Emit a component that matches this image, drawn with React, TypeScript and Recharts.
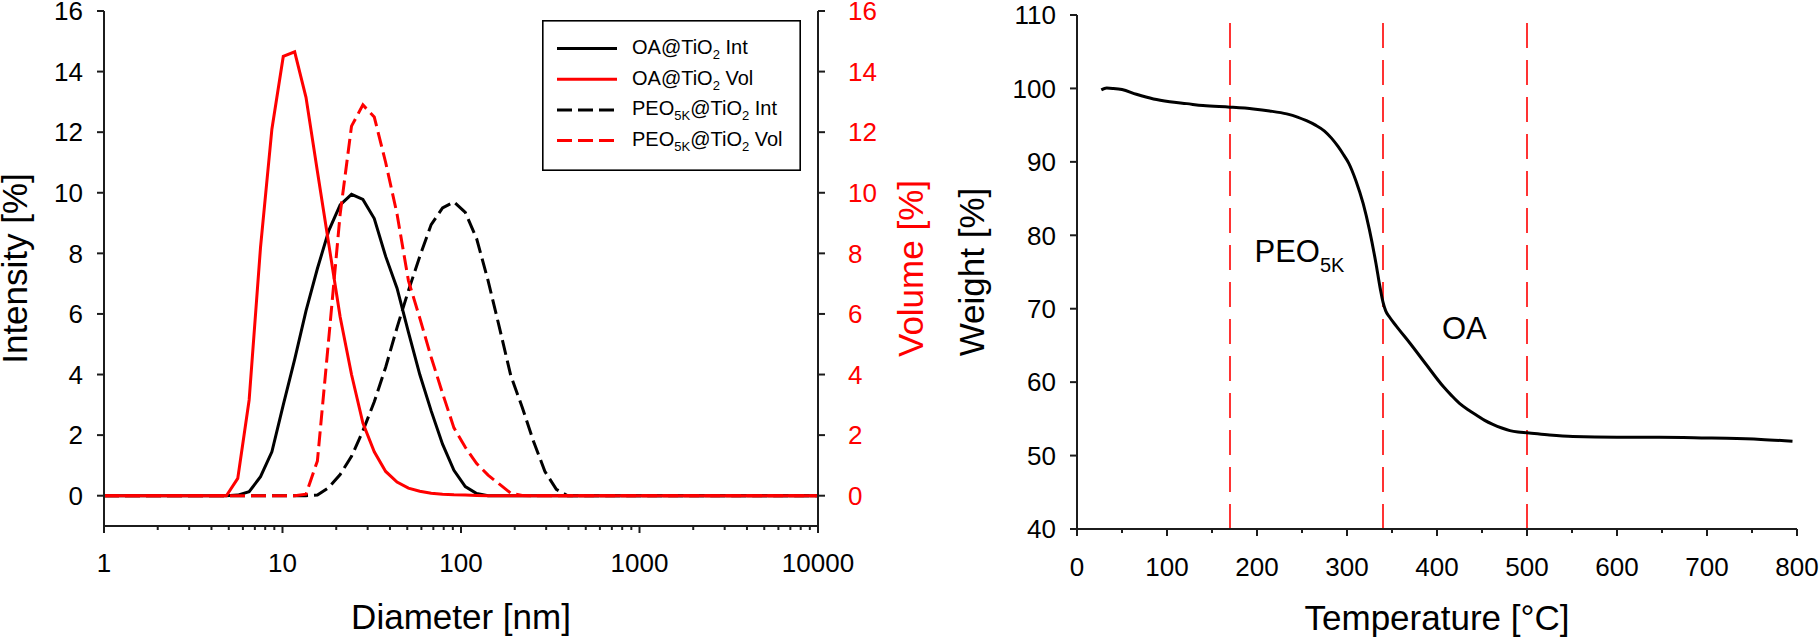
import React from 'react';
import { LineChart, Line, XAxis, YAxis, ReferenceLine, Legend } from 'recharts';

const FONT = '"Liberation Sans", Arial, Helvetica, sans-serif';
const AXIS = '#1c1c1c';
const RED = '#ff0000';

// ---------- DLS (left panel) ----------
const diameterNm = [1, 1.117, 1.294, 1.499, 1.736, 2.01, 2.328, 2.696, 3.122, 3.615, 4.187, 4.849, 5.615, 6.503, 7.531, 8.721, 10.1, 11.7, 13.54, 15.69, 18.17, 21.04, 24.36, 28.21, 32.67, 37.84, 43.82, 50.75, 58.77, 68.06, 78.82, 91.28, 105.7, 122.4, 141.8, 164.2, 190.1, 220.2, 255, 295.3, 342, 396.1, 458.7, 531.2, 615.1, 712.4, 825, 955.4, 1106, 1281, 1484, 1718, 1990, 2305, 2669, 3091, 3580, 4145, 4801, 5560, 6439, 7456, 8635, 10000];

const oaTiO2Int = [0, 0, 0, 0, 0, 0, 0, 0, 0, 0, 0, 0, 0.02, 0.13, 0.63, 1.45, 3.0, 4.5, 6.1, 7.5, 8.75, 9.6, 9.95, 9.78, 9.15, 7.9, 6.85, 5.4, 4.0, 2.8, 1.7, 0.84, 0.3, 0.07, 0, 0, 0, 0, 0, 0, 0, 0, 0, 0, 0, 0, 0, 0, 0, 0, 0, 0, 0, 0, 0, 0, 0, 0, 0, 0, 0, 0, 0, 0];
const oaTiO2Vol = [0, 0, 0, 0, 0, 0, 0, 0, 0, 0, 0, 0, 0.57, 3.16, 8.2, 12.1, 14.5, 14.65, 13.15, 10.7, 8.3, 5.9, 4.0, 2.4, 1.45, 0.8, 0.45, 0.25, 0.15, 0.08, 0.05, 0.03, 0.02, 0.01, 0, 0, 0, 0, 0, 0, 0, 0, 0, 0, 0, 0, 0, 0, 0, 0, 0, 0, 0, 0, 0, 0, 0, 0, 0, 0, 0, 0, 0, 0];
const peoTiO2Int = [0, 0, 0, 0, 0, 0, 0, 0, 0, 0, 0, 0, 0, 0, 0, 0, 0, 0, 0, 0.02, 0.27, 0.7, 1.3, 2.14, 3.1, 4.24, 5.55, 6.77, 7.9, 8.95, 9.5, 9.7, 9.35, 8.48, 7.1, 5.55, 3.96, 2.92, 1.79, 0.8, 0.21, 0, 0, 0, 0, 0, 0, 0, 0, 0, 0, 0, 0, 0, 0, 0, 0, 0, 0, 0, 0, 0, 0, 0];
const peoTiO2Vol = [0, 0, 0, 0, 0, 0, 0, 0, 0, 0, 0, 0, 0, 0, 0, 0, 0, 0, 0.05, 1.15, 5.2, 9.3, 12.2, 12.9, 12.5, 11.0, 9.3, 7.1, 5.86, 4.57, 3.38, 2.24, 1.6, 1.06, 0.68, 0.38, 0.08, 0.01, 0, 0, 0, 0, 0, 0, 0, 0, 0, 0, 0, 0, 0, 0, 0, 0, 0, 0, 0, 0, 0, 0, 0, 0, 0, 0];

const diameterMajorTicks = [1, 10, 100, 1000, 10000];
const diameterMinorTicks = [2, 3, 4, 5, 6, 7, 8, 9, 20, 30, 40, 50, 60, 70, 80, 90, 200, 300, 400, 500, 600, 700, 800, 900, 2000, 3000, 4000, 5000, 6000, 7000, 8000, 9000];
const percentTicks = [0, 2, 4, 6, 8, 10, 12, 14, 16];

// ---------- TGA (right panel) ----------
const temperatureC = [27, 33, 40, 50, 66, 85, 103, 122, 140, 170, 196, 214, 233, 245, 255, 265, 275, 283, 290, 296, 302, 310, 318, 325, 332, 337, 340, 343, 347, 355, 370, 388, 407, 416, 425, 435, 444, 453, 462, 472, 481, 490, 500, 525, 551, 600, 647, 700, 722, 760, 795];
const weightPct = [99.8, 100.05, 100.0, 99.85, 99.2, 98.57, 98.2, 97.93, 97.66, 97.45, 97.2, 96.93, 96.53, 96.1, 95.6, 95.0, 94.2, 93.2, 92.1, 91.0, 89.8, 87.4, 84.3, 80.7, 76.3, 72.7, 70.9, 69.7, 68.9, 67.6, 65.3, 62.4, 59.4, 58.2, 57.1, 56.2, 55.5, 54.8, 54.25, 53.75, 53.4, 53.2, 53.1, 52.8, 52.6, 52.5, 52.5, 52.4, 52.35, 52.2, 51.95];
const temperatureMajorTicks = [0, 100, 200, 300, 400, 500, 600, 700, 800];
const temperatureMinorTicks = [50, 150, 250, 350, 450, 550, 650, 750];
const weightTicks = [40, 50, 60, 70, 80, 90, 100, 110];
const stageBoundsC = [170, 340, 500];
const stageLabels = [
  { text: 'PEO_{5K}' },
  { text: 'OA' },
];

type Series = { key: string; name: string; color: string; dash?: string; axis: string };
const dlsSeries: Series[] = [
  { key: 'oaInt', name: 'OA@TiO_{2} Int', color: '#000000', axis: 'int' },
  { key: 'oaVol', name: 'OA@TiO_{2} Vol', color: RED, axis: 'vol' },
  { key: 'peoInt', name: 'PEO_{5K}@TiO_{2} Int', color: '#000000', dash: '15 6', axis: 'int' },
  { key: 'peoVol', name: 'PEO_{5K}@TiO_{2} Vol', color: RED, dash: '15 6', axis: 'vol' },
];
const drawOrder = ['oaInt', 'peoInt', 'peoVol', 'oaVol'];
const seriesValues: Record<string, number[]> = {
  oaInt: oaTiO2Int,
  oaVol: oaTiO2Vol,
  peoInt: peoTiO2Int,
  peoVol: peoTiO2Vol,
};

const dlsData = diameterNm.map((d, i) => {
  const row: Record<string, number> = { d };
  for (const s of dlsSeries) row[s.key] = seriesValues[s.key][i];
  return row;
});
const tgaData = temperatureC.map((t, i) => ({ t, w: weightPct[i] }));

function rich(s: string, base: number, sub: number, shift: number) {
  const parts = s.split(/_\{([^}]*)\}/);
  const out: React.ReactNode[] = [];
  let down = false;
  parts.forEach((p, i) => {
    if (p === '') return;
    if (i % 2 === 1) {
      out.push(<tspan key={i} fontSize={sub} dy={down ? 0 : shift}>{p}</tspan>);
      down = true;
    } else {
      out.push(<tspan key={i} fontSize={base} dy={down ? -shift : 0}>{p}</tspan>);
      down = false;
    }
  });
  return out;
}

const makeXTick = (majors: number[], labelDy: number) => (props: any) => {
  const { x, y, payload } = props;
  const isMajor = majors.includes(payload.value);
  return (
    <g>
      <line x1={x} x2={x} y1={y} y2={y + (isMajor ? 7 : 4)} stroke={AXIS} strokeWidth={2} />
      {isMajor && (
        <text x={x} y={y + labelDy} textAnchor="middle" fontSize={26} fill="#000" fontFamily={FONT}>
          {payload.value}
        </text>
      )}
    </g>
  );
};

const DlsLegend = () => (
  <svg width={259} height={151} style={{ display: 'block' }}>
    <rect x={0.8} y={0.8} width={257.4} height={149.4} fill="#fff" stroke="#000" strokeWidth={1.6} />
    {dlsSeries.map((s, i) => {
      const ly = 28.5 + 30.7 * i;
      return (
        <g key={s.key}>
          <line x1={15} x2={75} y1={ly} y2={ly} stroke={s.color} strokeWidth={3} strokeDasharray={s.dash} />
          <text x={90} y={ly + 5.5} fontSize={20} fontFamily={FONT} fill="#000">
            {rich(s.name, 20, 13, 5)}
          </text>
        </g>
      );
    })}
  </svg>
);

const axisLine = { stroke: AXIS, strokeWidth: 2 };
const tickLine = { stroke: AXIS, strokeWidth: 2 };

export default function App() {
  const allDiamTicks = [...diameterMajorTicks, ...diameterMinorTicks].sort((a, b) => a - b);
  const allTempTicks = [...temperatureMajorTicks, ...temperatureMinorTicks].sort((a, b) => a - b);
  return (
    <div style={{ position: 'absolute', left: 0, top: 0, width: 1820, height: 640, background: '#fff', fontFamily: FONT }}>
      <div style={{ position: 'absolute', left: 0, top: 0 }}>
        <LineChart width={910} height={640} data={dlsData} margin={{ top: 11, right: 0, bottom: 0, left: 0 }}>
          <XAxis
            dataKey="d"
            type="number"
            scale="log"
            domain={[1, 10000]}
            allowDataOverflow
            ticks={allDiamTicks}
            interval={0}
            height={114}
            axisLine={axisLine}
            tickLine={false}
            tickSize={0}
            tickMargin={0}
            tick={makeXTick(diameterMajorTicks, 46)}
          />
          <XAxis xAxisId="top" orientation="top" type="number" domain={[0, 1]} ticks={[]} height={0} tick={false} tickLine={false} axisLine={axisLine} />
          <YAxis
            yAxisId="int"
            type="number"
            domain={[-1, 16]}
            ticks={percentTicks}
            interval={0}
            width={104}
            axisLine={axisLine}
            tickLine={tickLine}
            tickSize={7}
            tickMargin={14}
            tick={{ fill: '#000', fontSize: 26, fontFamily: FONT }}
          />
          <YAxis
            yAxisId="vol"
            orientation="right"
            type="number"
            domain={[-1, 16]}
            ticks={percentTicks}
            interval={0}
            width={92}
            axisLine={axisLine}
            tickLine={tickLine}
            tickSize={7}
            tickMargin={23}
            tick={{ fill: RED, fontSize: 26, fontFamily: FONT, textAnchor: 'start' }}
          />
          {drawOrder.map((k) => {
            const s = dlsSeries.find((x) => x.key === k)!;
            return (
              <Line
                key={k}
                yAxisId={s.axis}
                dataKey={s.key}
                name={s.name}
                type="linear"
                stroke={s.color}
                strokeWidth={3}
                strokeDasharray={s.dash}
                dot={false}
                activeDot={false}
                isAnimationActive={false}
              />
            );
          })}
          <Legend
            layout="vertical"
            align="center"
            verticalAlign="middle"
            wrapperStyle={{ left: 541.7, top: 20, width: 259, height: 151 }}
            content={() => <DlsLegend />}
          />
        </LineChart>
      </div>

      <div style={{ position: 'absolute', left: 910, top: 0 }}>
        <LineChart width={910} height={640} data={tgaData} margin={{ top: 15, right: 23, bottom: 0, left: 0 }}>
          <XAxis
            dataKey="t"
            type="number"
            domain={[0, 800]}
            ticks={allTempTicks}
            interval={0}
            height={111}
            axisLine={axisLine}
            tickLine={false}
            tickSize={0}
            tickMargin={0}
            tick={makeXTick(temperatureMajorTicks, 47)}
          />
          <XAxis xAxisId="top" orientation="top" type="number" domain={[0, 1]} ticks={[]} height={0} tick={false} tickLine={false} axisLine={axisLine} />
          <YAxis
            type="number"
            domain={[40, 110]}
            ticks={weightTicks}
            interval={0}
            width={167}
            axisLine={axisLine}
            tickLine={tickLine}
            tickSize={7}
            tickMargin={14}
            tick={{ fill: '#000', fontSize: 26, fontFamily: FONT }}
          />
          <YAxis yAxisId="border" orientation="right" type="number" domain={[0, 1]} ticks={[]} width={0} tick={false} tickLine={false} axisLine={axisLine} />
          {stageBoundsC.map((b) => (
            <ReferenceLine key={b} x={b} stroke={RED} strokeWidth={1.6} strokeDasharray="25 12" />
          ))}
          <Line
            dataKey="w"
            type="monotone"
            stroke="#000"
            strokeWidth={3}
            dot={false}
            activeDot={false}
            isAnimationActive={false}
          />
        </LineChart>
      </div>

      <svg width={1820} height={640} style={{ position: 'absolute', left: 0, top: 0, pointerEvents: 'none' }} fontFamily={FONT}>
        <text x={27} y={268.5} transform="rotate(-90 27 268.5)" textAnchor="middle" fontSize={35} fill="#000">Intensity [%]</text>
        <text x={923} y={268.5} transform="rotate(-90 923 268.5)" textAnchor="middle" fontSize={35} fill={RED}>Volume [%]</text>
        <text x={984} y={272} transform="rotate(-90 984 272)" textAnchor="middle" fontSize={35} fill="#000">Weight [%]</text>
        <text x={461} y={629} textAnchor="middle" fontSize={35} fill="#000">Diameter [nm]</text>
        <text x={1437} y={630} textAnchor="middle" fontSize={35} fill="#000">Temperature [°C]</text>
        <text x={1254.5} y={261.7} fontSize={31} fill="#000">{rich(stageLabels[0].text, 31, 20, 10)}</text>
        <text x={1442} y={339.3} fontSize={31} fill="#000">{rich(stageLabels[1].text, 31, 20, 10)}</text>
      </svg>
    </div>
  );
}
